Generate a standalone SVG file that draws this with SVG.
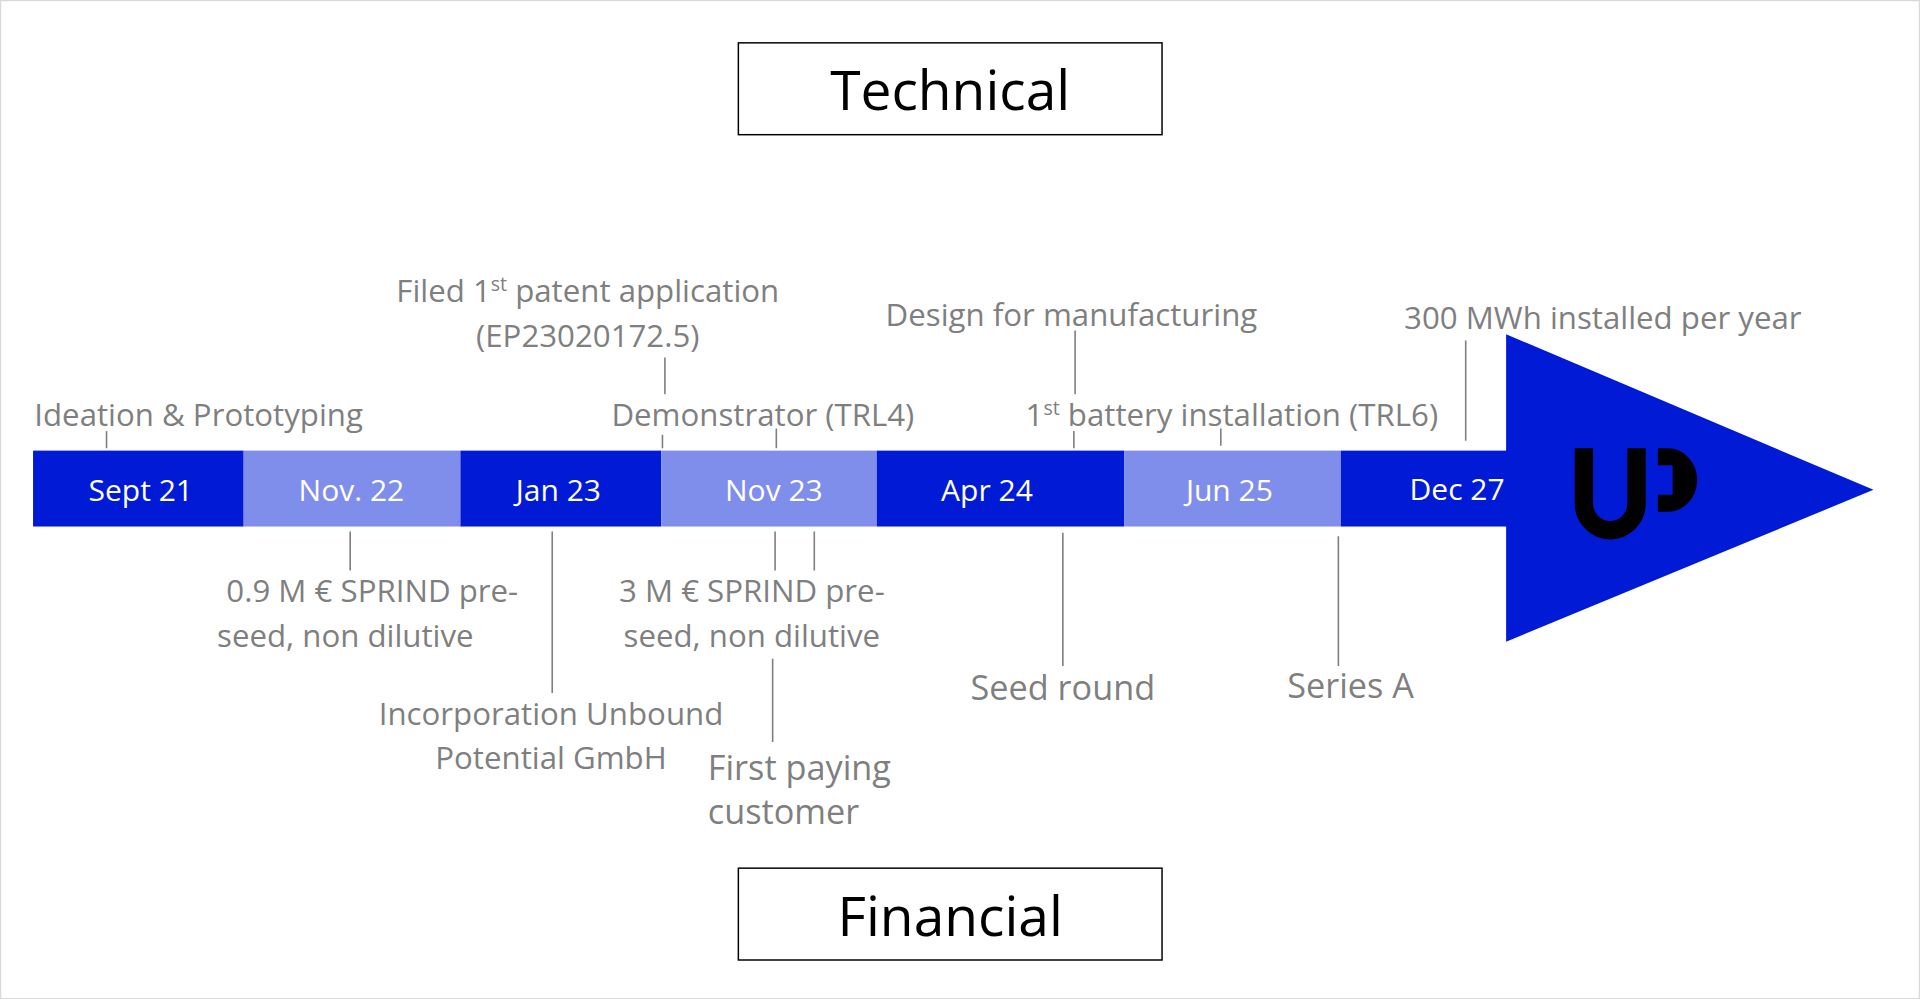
<svg xmlns="http://www.w3.org/2000/svg" width="1920" height="999" viewBox="0 0 1920 999">
<style>
.g{font-family:"Open Sans","Noto Sans",sans-serif;font-size:25.5px;fill:#7f7f7f}
.g2{font-family:"Open Sans","Noto Sans",sans-serif;font-size:28px;fill:#7f7f7f}
.w{font-family:"Open Sans","Noto Sans",sans-serif;font-size:24.5px;fill:#fff;text-anchor:middle}
.t{font-family:"Open Sans","Noto Sans",sans-serif;font-size:45px;fill:#000;text-anchor:middle}
.ln{stroke:#7f7f7f;stroke-width:1.3;fill:none}
.d{fill:#001AD6}.l{fill:#808EEB}
.box{fill:#fff;stroke:#000;stroke-width:1.2}
</style>
<rect width="1920" height="999" fill="#fff"/>
<g transform="scale(1.22449)">
<rect x="0.5" y="0.5" width="1567" height="815" fill="none" stroke="#d9d9d9"/>
<g id="technical"><rect class="box" x="603" y="35" width="346" height="75"/><text class="t" x="776" y="90">Technical</text></g>
<g id="financial"><rect class="box" x="603" y="709" width="346" height="75"/><text class="t" x="776" y="764">Financial</text></g>
<g id="timeline">
<polygon class="d" points="1230,368 1230,273 1530,400 1230,524 1230,430"/>
<rect class="d" x="27" y="368" width="172" height="62"/>
<rect class="l" x="199" y="368" width="177" height="62"/>
<rect class="d" x="376" y="368" width="164" height="62"/>
<rect class="l" x="540" y="368" width="176" height="62"/>
<rect class="d" x="716" y="368" width="202" height="62"/>
<rect class="l" x="918" y="368" width="177" height="62"/>
<rect class="d" x="1095" y="368" width="136" height="62"/>
<text class="w" x="115" y="409">Sept 21</text>
<text class="w" x="287" y="409">Nov. 22</text>
<text class="w" x="456" y="409">Jan 23</text>
<text class="w" x="632" y="409">Nov 23</text>
<text class="w" x="806" y="409">Apr 24</text>
<text class="w" x="1004" y="409">Jun 25</text>
<text class="w" x="1190" y="408">Dec 27</text>
</g>
<g id="logo" fill="#000">
<path d="M1293.5,366 V411 A21.5,22 0 0 0 1336.5,411 V366" fill="none" stroke="#000" stroke-width="15"/>
<path d="M1354,366 H1362 A24,26 0 0 1 1362,418 H1354 V404 H1366 V380 H1354 Z"/>
</g>
<g id="connectors">
<path class="ln" d="M87,352V366 M543,292V322 M541,355V366 M634,350V366 M878,270V322 M877,352V366 M997,350V364 M1197,278V360
M286,434V466 M451,434V566 M633,434V466 M665,434V466 M631,538V606 M868,435V544 M1093,438V544"/>
</g>
<g id="labels">
<text class="g" x="28" y="348">Ideation &amp; Prototyping</text>
<text class="g" x="480" y="247" text-anchor="middle">Filed 1<tspan font-size="16" dy="-9">st</tspan><tspan dy="9"> patent application</tspan></text>
<text class="g" x="480" y="283" text-anchor="middle">(EP23020172.5)</text>
<text class="g" x="623" y="348" text-anchor="middle">Demonstrator (TRL4)</text>
<text class="g" x="875" y="266" text-anchor="middle">Design for manufacturing</text>
<text class="g" x="1006" y="348" text-anchor="middle">1<tspan font-size="16" dy="-9">st</tspan><tspan dy="9"> battery installation (TRL6)</tspan></text>
<text class="g" x="1309" y="269" text-anchor="middle">300 MWh installed per year</text>
<text class="g" x="304" y="492" text-anchor="middle">0.9 M € SPRIND pre-</text>
<text class="g" x="282" y="528" text-anchor="middle">seed, non dilutive</text>
<text class="g" x="450" y="592" text-anchor="middle">Incorporation Unbound</text>
<text class="g" x="450" y="628" text-anchor="middle">Potential GmbH</text>
<text class="g" x="614" y="492" text-anchor="middle">3 M € SPRIND pre-</text>
<text class="g" x="614" y="528" text-anchor="middle">seed, non dilutive</text>
<text class="g2" x="578" y="637">First paying</text>
<text class="g2" x="578" y="673">customer</text>
<text class="g2" x="868" y="572" text-anchor="middle">Seed round</text>
<text class="g2" x="1103" y="570" text-anchor="middle">Series A</text>
</g>
</g>
</svg>
